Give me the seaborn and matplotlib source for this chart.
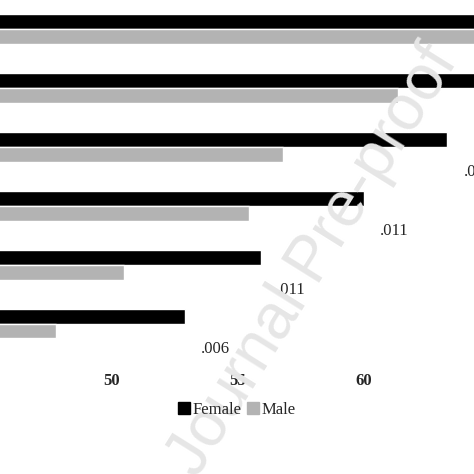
import matplotlib
matplotlib.use("Agg")
import matplotlib.pyplot as plt
import seaborn as sns
import pandas as pd

groups = ["G1", "G2", "G3", "G4", "G5", "G6"]
female = [66.0, 65.5, 63.3, 60.0, 55.9, 52.9]
male = [65.5, 61.35, 56.8, 55.45, 50.5, 47.8]
pvals = ["", "", ".02", ".011", ".011", ".006"]

df = pd.DataFrame({
    "group": groups * 2,
    "value": female + male,
    "sex": ["Female"] * 6 + ["Male"] * 6,
})

sns.set_style("white")
plt.rcParams["font.family"] = ["Liberation Serif", "DejaVu Serif"]

fig = plt.figure(figsize=(4.74, 4.74), dpi=100)
fig.text(0.66, 0.45, "Journal Pre-proof", rotation=58, fontsize=46,
         color="#e6e6e6", ha="center", va="center",
         family="Liberation Sans", zorder=0)
ax = fig.add_axes([0, 1 - 355 / 474, 1, 355 / 474])
ax.patch.set_alpha(0)
sns.barplot(data=df, y="group", x="value", hue="sex", orient="h",
            palette={"Female": "black", "Male": "#b3b3b3"}, width=0.5,
            ax=ax, legend=False)
ax.set_xlim(45.56, 64.37)
ax.set_ylim(5.53, -0.49)
ax.set_xticks([50, 55, 60])
ax.set_xticklabels(["50", "55", "60"], fontweight="bold", fontsize=12)
ax.set_yticks([])
ax.set_xlabel("")
ax.set_ylabel("")
ax.tick_params(axis="x", length=0, pad=13)
for s in ax.spines.values():
    s.set_visible(False)

for i, (f, p) in enumerate(zip(female, pvals)):
    if p:
        ax.text(f + 0.65, i + 0.42, p, fontsize=12, va="center", ha="left")

from matplotlib.patches import Patch
handles = [Patch(color="black", label="Female"), Patch(color="#b3b3b3", label="Male")]
fig.legend(handles=handles, loc="center", bbox_to_anchor=(0.5, 1 - 410 / 474),
           ncol=2, frameon=False, fontsize=12, handlelength=0.7, handleheight=0.7,
           handletextpad=0.2, columnspacing=0.3)

fig.savefig("out.png", dpi=100)
